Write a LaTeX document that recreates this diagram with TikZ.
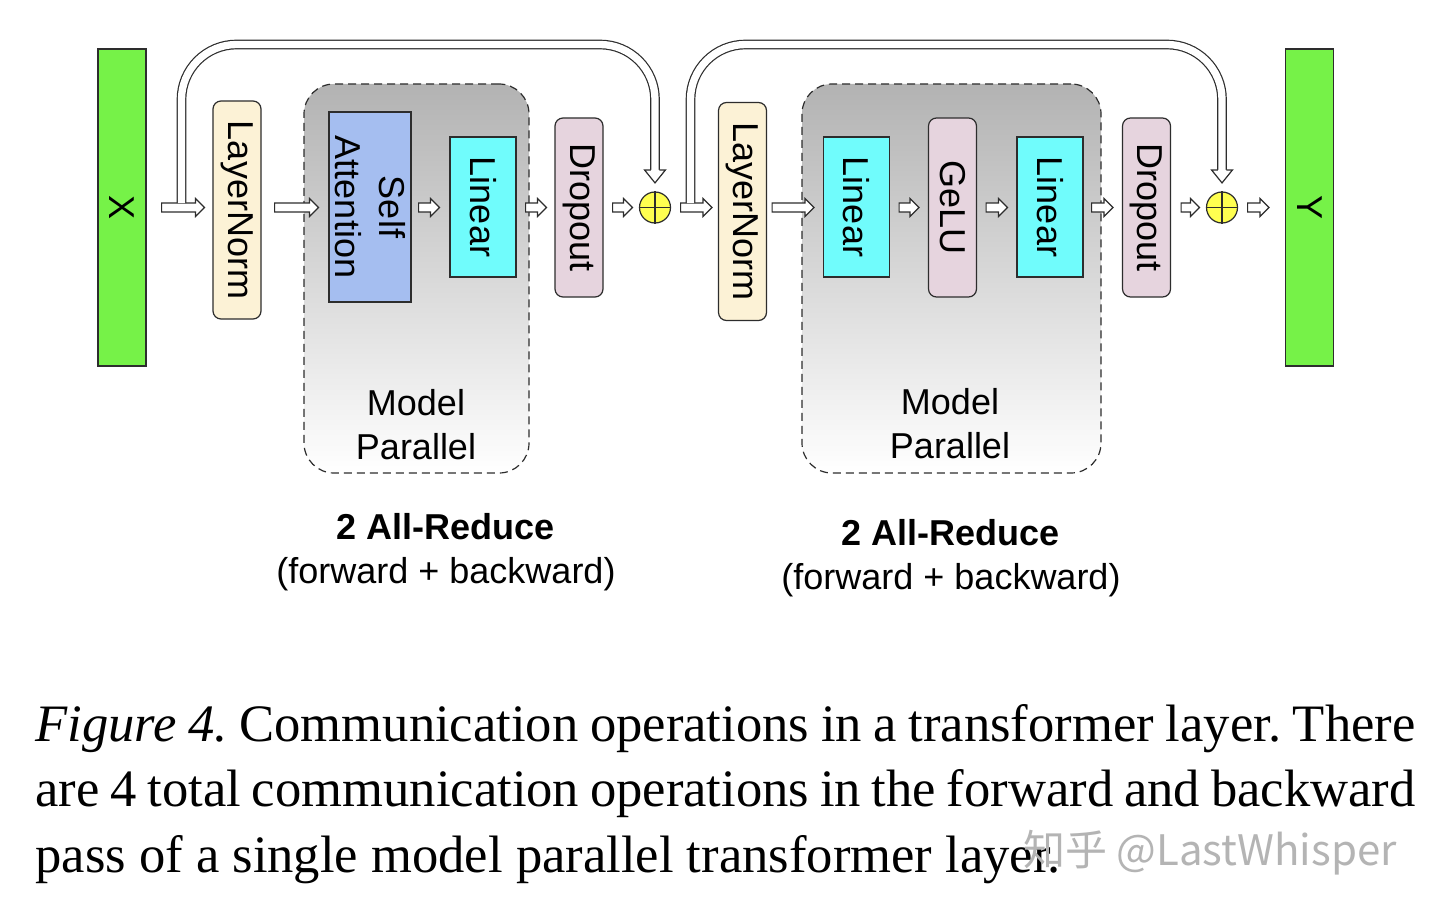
\documentclass[tikz,border=0pt]{standalone}
\usepackage{fontspec}
\setmainfont{Liberation Sans}
\newfontfamily\capfont{Liberation Serif}
\newfontfamily\cjk{Noto Sans CJK SC}
\usetikzlibrary{calc}
\definecolor{iogreen}{RGB}{118,242,72}
\definecolor{lncream}{RGB}{252,242,214}
\definecolor{sablue}{RGB}{165,190,240}
\definecolor{lincyan}{RGB}{112,252,252}
\definecolor{dropmauve}{RGB}{230,212,222}
\definecolor{plusyellow}{RGB}{255,255,80}
\definecolor{bord}{RGB}{45,45,45}
\definecolor{wmgray}{RGB}{180,180,180}
\tikzset{
 box/.style={draw=bord, line width=0.6pt, inner sep=0pt, font=\fontsize{18pt}{22pt}\selectfont},
 io/.style={box, fill=iogreen, minimum width=24pt, minimum height=158.5pt},
 ln/.style={box, fill=lncream, rounded corners=4pt, minimum width=24pt, minimum height=109pt},
 sa/.style={box, fill=sablue, minimum width=41pt, minimum height=95pt},
 lin/.style={box, fill=lincyan, minimum width=33pt, minimum height=70pt},
 drop/.style={box, fill=dropmauve, rounded corners=4pt, minimum width=24pt, minimum height=89.5pt},
 mp/.style={draw=bord, line width=0.6pt, dash pattern=on 4pt off 2.5pt, rounded corners=15pt, top color=black!30, bottom color=white, minimum width=#1, minimum height=194.5pt, inner sep=0pt},
 plus/.style={circle, draw=bord, line width=0.6pt, fill=plusyellow, minimum size=15.5pt, inner sep=0pt},
 barrow/.style={draw=bord, fill=white, line width=0.6pt, line join=miter},
 skipline/.style={draw=bord, line width=0.6pt, double=white, double distance=3.65pt, rounded corners=27.5pt},
 headline/.style={draw=bord, line width=0.6pt, line join=miter},
 lbl/.style={align=center, inner sep=0pt},
}
% horizontal hollow arrow: #1 source node, #2 target node, #3 start gap, #4 end gap
\newcommand\harrow[4]{%
 \draw[barrow] let \p1=(#1.east), \p2=(#2.west), \p3=(axis) in
  (\x1+#3,\y3+2.25pt) -- (\x2-#4-4.5pt,\y3+2.25pt) -- (\x2-#4-4.5pt,\y3+4.5pt) --
  (\x2-#4,\y3) -- (\x2-#4-4.5pt,\y3-4.5pt) -- (\x2-#4-4.5pt,\y3-2.25pt) --
  (\x1+#3,\y3-2.25pt) -- cycle;}
% skip connection: #1 start coordinate, #2 target node
\newcommand\skiparrow[2]{%
 \draw[skipline] let \p1=(#1), \p2=(#2.north), \p3=(skiptop) in
  (\x1,\y1) -- (\x1,\y3) -- (\x2,\y3) -- (\x2,\y2+10.75pt);
 \fill[white] let \p2=(#2.north) in
  (\x2-5.25pt,\y2+10.75pt) -- (\x2+5.25pt,\y2+10.75pt) -- (\x2,\y2+4.25pt) -- cycle;
 \draw[headline] let \p2=(#2.north) in
  (\x2-2.125pt,\y2+10.75pt) -- (\x2-5.25pt,\y2+10.75pt) -- (\x2,\y2+4.25pt) --
  (\x2+5.25pt,\y2+10.75pt) -- (\x2+2.125pt,\y2+10.75pt);}
\begin{document}
\begin{tikzpicture}[x=0.5pt,y=-0.5pt]
\fill[white] (0,0) rectangle (1440,915);
\useasboundingbox (0,0) rectangle (1440,915);
\coordinate (axis) at (0,207.5);
\coordinate (skiptop) at (0,44.5);
\coordinate (s1) at (181.5,203);
\coordinate (s2) at (690.5,203);
% model parallel regions
\node[mp=112.5pt] (mp1) at (416.5,278.5) {};
\node[mp=149.5pt] (mp2) at (951.5,278.5) {};
% blocks
\node[io] (X) at (122,207.5) {\rotatebox{-90}{X}};
\node[ln] (ln1) at (237,210) {\rotatebox{-90}{LayerNorm}};
\node[sa, label={[font=\fontsize{18pt}{22pt}\selectfont, inner sep=0pt, xshift=-2pt]center:\rotatebox{-90}{\begin{tabular}{@{}c@{}}Self\\Attention\end{tabular}}}] (sa) at (370,207) {};
\node[lin] (lin1) at (483,207) {\rotatebox{-90}{Linear}};
\node[drop] (drop1) at (579,207.5) {\rotatebox{-90}{Dropout}};
\node[plus] (p1) at (655,207.5) {};
\node[ln] (ln2) at (742.5,211.5) {\rotatebox{-90}{LayerNorm}};
\node[lin] (lin2) at (856.5,207) {\rotatebox{-90}{Linear}};
\node[drop] (gelu) at (952.5,207.5) {\rotatebox{-90}{GeLU}};
\node[lin] (lin3) at (1050,207) {\rotatebox{-90}{Linear}};
\node[drop] (drop2) at (1146.5,207.5) {\rotatebox{-90}{Dropout}};
\node[plus] (p2) at (1222,207.5) {};
\node[io] (Y) at (1309.5,207.5) {\rotatebox{-90}{Y}};
\draw[bord, line width=0.6pt] (p1.north) -- (p1.south) (p1.west) -- (p1.east);
\draw[bord, line width=0.6pt] (p2.north) -- (p2.south) (p2.west) -- (p2.east);
% arrows
\harrow{X}{ln1}{7.5pt}{4pt}
\harrow{ln1}{sa}{6.5pt}{5pt}
\harrow{sa}{lin1}{3.5pt}{5pt}
\harrow{lin1}{drop1}{4.5pt}{4pt}
\harrow{drop1}{p1}{4.5pt}{3.25pt}
\harrow{p1}{ln2}{4.75pt}{3pt}
\harrow{ln2}{lin2}{2.5pt}{4.5pt}
\harrow{lin2}{gelu}{4.5pt}{4.5pt}
\harrow{gelu}{lin3}{4.5pt}{4.5pt}
\harrow{lin3}{drop2}{4pt}{4.5pt}
\harrow{drop2}{p2}{5pt}{3.25pt}
\harrow{p2}{Y}{4.75pt}{8pt}
% residual connections
\skiparrow{s1}{p1}
\skiparrow{s2}{p2}
% labels
\node[lbl, font=\fontsize{18pt}{22pt}\selectfont] (mp1lbl) at (416,424.5) {Model\\Parallel};
\node[lbl, font=\fontsize{18pt}{22pt}\selectfont] (mp2lbl) at (950,423.5) {Model\\Parallel};
\node[lbl, font=\fontsize{18pt}{22pt}\selectfont] (ar1) at (446,552) {\textbf{2 All-Reduce}\\(forward + backward)};
\node[lbl, font=\fontsize{18pt}{22pt}\selectfont] (ar2) at (951,558) {\textbf{2 All-Reduce}\\(forward + backward)};
% caption
\node[anchor=north west, inner sep=0pt, text width=690pt, align=justify,
  font=\capfont\fontsize{26.3pt}{32.75pt}\selectfont] (cap) at (35,704)
  {\frenchspacing\hyphenpenalty=10000\exhyphenpenalty=10000 \textit{Figure 4.} Communication operations in a transformer layer. There are 4 total communication operations in the forward and backward pass of a single model parallel transformer layer.};
\node[anchor=base west, inner sep=0pt, text=wmgray, font=\cjk\fontsize{21pt}{25pt}\selectfont] (wm) at (1023,865) {知乎 @LastWhisper};
\end{tikzpicture}
\end{document}
